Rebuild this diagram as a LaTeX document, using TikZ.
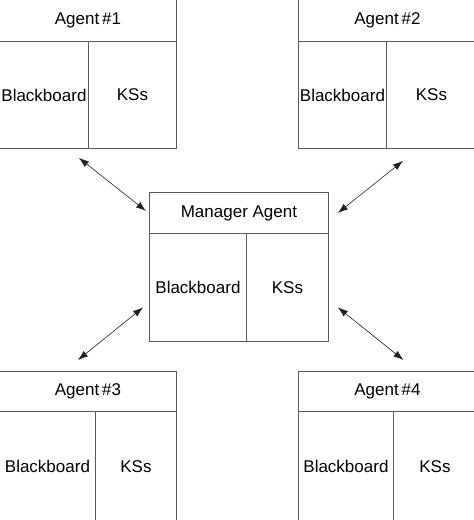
\documentclass[tikz,border=0pt]{standalone}
\usepackage{fontspec}
\setmainfont{Liberation Sans}
\usepackage{tikz}
\usetikzlibrary{
arrows.meta,
positioning
}
\definecolor{MASLine}{HTML}{5A5A5A}
\definecolor{MASArrow}{HTML}{202020}
\tikzset{
masbox/.style={draw=MASLine, line width=0.9pt, fill=white, anchor=north west,
  inner sep=0pt, font=\fontsize{17}{20}\selectfont},
masarrow/.style={{Latex[length=10pt,width=7pt]}-{Latex[length=10pt,width=7pt]},
  line width=0.6pt, draw=MASArrow}
}

\begin{document}
\begin{tikzpicture}[x=1pt, y=-1pt]
\useasboundingbox[fill=white] (0,0) rectangle (474,520);
% Agent #1
\node[masbox, minimum width=177pt, minimum height=43pt] (a1head) at (-1,-2) {Agent\,\#1};
\node[masbox, minimum width=89pt, minimum height=107pt] (a1bb) at (-1,41) {Blackboard};
\node[masbox, minimum width=88pt, minimum height=107pt] (a1kss) at (88,41) {KSs};
% Agent #2
\node[masbox, minimum width=178pt, minimum height=43pt] (a2head) at (298,-2) {Agent\,\#2};
\node[masbox, minimum width=88pt, minimum height=107pt] (a2bb) at (298,41) {Blackboard};
\node[masbox, minimum width=90pt, minimum height=107pt] (a2kss) at (386,41) {KSs};
% Manager Agent
\node[masbox, minimum width=179pt, minimum height=41pt] (mgrhead) at (149,192) {Manager Agent};
\node[masbox, minimum width=97pt, minimum height=108pt] (mgrbb) at (149,233) {Blackboard};
\node[masbox, minimum width=82pt, minimum height=108pt] (mgrkss) at (246,233) {KSs};
% Agent #3
\node[masbox, minimum width=177pt, minimum height=40pt] (a3head) at (-1,371) {Agent\,\#3};
\node[masbox, minimum width=96pt, minimum height=110pt] (a3bb) at (-1,411) {Blackboard};
\node[masbox, minimum width=81pt, minimum height=110pt] (a3kss) at (95,411) {KSs};
% Agent #4
\node[masbox, minimum width=178pt, minimum height=40pt] (a4head) at (298,371) {Agent\,\#4};
\node[masbox, minimum width=95pt, minimum height=110pt] (a4bb) at (298,411) {Blackboard};
\node[masbox, minimum width=83pt, minimum height=110pt] (a4kss) at (393,411) {KSs};
% arrow ends
\coordinate (p1) at ([shift={(-10,9)}]a1bb.south east);
\coordinate (q1) at ([shift={(-3,-2)}]mgrhead.west);
\coordinate (p2) at ([shift={(17,12)}]a2kss.south west);
\coordinate (q2) at ([shift={(9,0)}]mgrhead.east);
\coordinate (p3) at ([shift={(-6,20)}]mgrbb.west);
\coordinate (q3) at ([shift={(-10,-11)}]a3head.north);
\coordinate (p4) at ([shift={(9,20)}]mgrkss.east);
\coordinate (q4) at ([shift={(16,-11)}]a4head.north);
\foreach \a/\b in {p1/q1,p2/q2,p3/q3,p4/q4}
\draw[masarrow] (\a) -- (\b);
\end{tikzpicture}
\end{document}
